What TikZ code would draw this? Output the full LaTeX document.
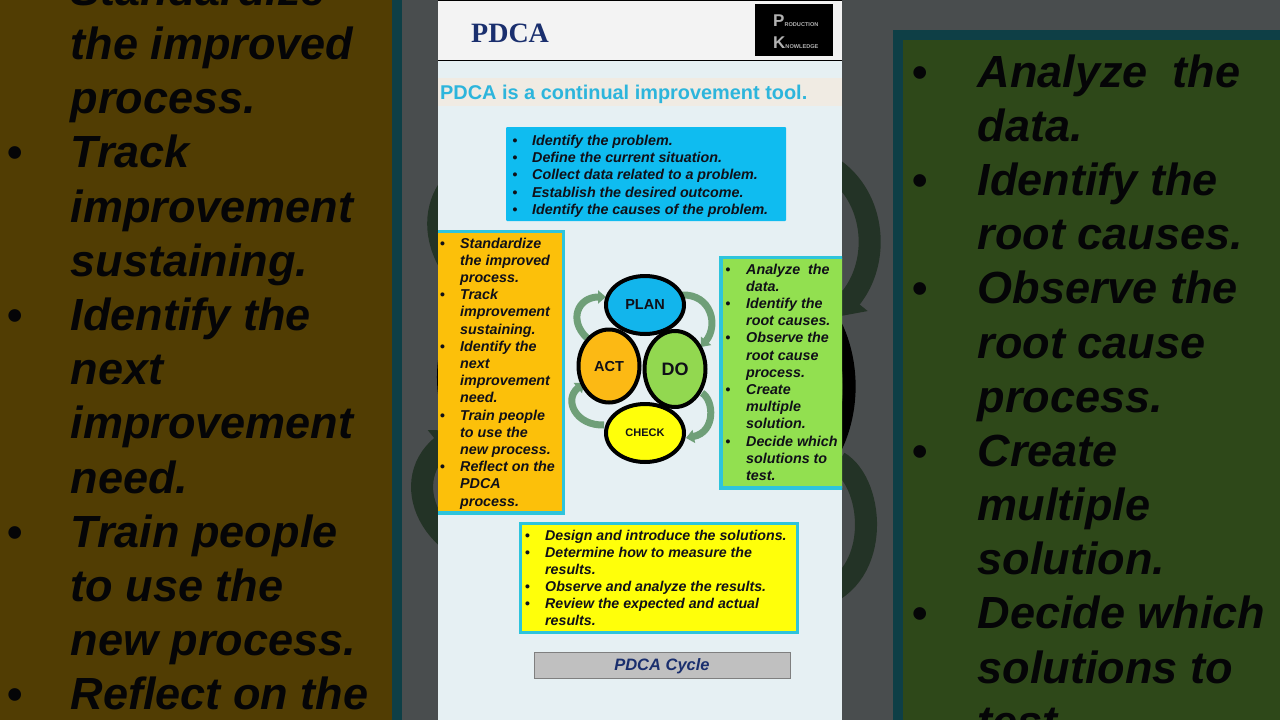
\documentclass[tikz,border=0pt]{standalone}
\usepackage{fontspec}
\usetikzlibrary{arrows.meta}
\setmainfont{Liberation Sans}
\newfontfamily\serifbold[Ligatures=TeX]{Liberation Serif}
\definecolor{bodyc}{HTML}{E6F0F3}
\definecolor{headc}{HTML}{F3F3F3}
\definecolor{bandc}{HTML}{F0EBE3}
\definecolor{tealc}{HTML}{2DB5DC}
\definecolor{navyc}{HTML}{1A2F6E}
\definecolor{cyanb}{HTML}{2EC4DC}
\definecolor{bluef}{HTML}{0FBCF0}
\definecolor{orangef}{HTML}{FCC00A}
\definecolor{greenf}{HTML}{92E050}
\definecolor{yellowf}{HTML}{FFFF0A}
\definecolor{greyf}{HTML}{C0C0C0}
\definecolor{greyb}{HTML}{7F7F7F}
\definecolor{plancol}{HTML}{12B5EC}
\definecolor{actcol}{HTML}{FCB914}
\definecolor{docol}{HTML}{92D850}
\definecolor{arrowc}{HTML}{6F9F78}
\definecolor{inkc}{HTML}{101018}
\def\lsc{1}
\tikzset{
  x=1pt,y=-1pt,
  line/.style={anchor=base west,inner sep=0pt,text=inkc,font=\fontsize{14.3}{14.3}\selectfont\bfseries\itshape},
  ylin/.style={anchor=base west,inner sep=0pt,text=inkc,font=\fontsize{14.2}{14.2}\selectfont\bfseries\itshape},
  dotm/.style={anchor=base west,inner sep=0pt,text=inkc,font=\fontsize{14}{14}\selectfont\bfseries},
  boxb/.style={draw=cyanb,line width=\lsc*3.2pt},
  ring/.style={draw=black,line width=\lsc*4pt},
  band/.style={draw=arrowc,line width=\lsc*7pt,-{Triangle[length=8pt,width=13pt,scale=\lsc]}},
  cyc/.style={inner sep=0pt,text=inkc,font=\bfseries}
}
\newcommand{\orangebox}{\filldraw[boxb,fill=orangef] (430,231.5) rectangle (563.7,513);}
\newcommand{\orangelines}[1]{%
  \foreach \i/\t in {0/Standardize,1/the improved,2/process.,3/Track,4/improvement,5/sustaining.,6/Identify the,7/next,8/improvement,9/need.,10/Train people,11/to use the,12/new process.,13/Reflect on the}
    \node[line] (#1l\i) at (460,{248+17.2*\i}) {\t};
  \foreach \i in {0,3,6,10,13}
    \node[dotm] (#1d\i) at (440,{248+17.2*\i}) {•};
}
\newcommand{\greenbox}{\filldraw[boxb,fill=greenf] (860,257.5) -- (721,257.5) -- (721,488) -- (860,488) -- cycle;}
\newcommand{\greenlines}[1]{%
  \foreach \i/\t in {0/Analyze\ \ the,1/data.,2/Identify the,3/root causes.,4/Observe the,5/root cause,6/process.,7/Create,8/multiple,9/solution.,10/Decide which,11/solutions to,12/test.}
    \node[line] (#1l\i) at (746,{274+17.2*\i}) {\t};
  \foreach \i in {0,2,4,7,10}
    \node[dotm] (#1d\i) at (725.5,{274+17.2*\i}) {•};
}
\newcommand{\cycleshapes}[1]{%
  \coordinate (#1a1) at (682,295);\coordinate (#1a2) at (701,347);
  \coordinate (#1b1) at (702,393);\coordinate (#1b2) at (686,438);
  \coordinate (#1c1) at (604,425);\coordinate (#1c2) at (584,383);
  \coordinate (#1e1) at (587,338);\coordinate (#1e2) at (606,297);
  \draw[band] (#1a1) .. controls (711,294) and (719,325) .. (#1a2);
  \draw[band] (#1b1) .. controls (714,400) and (716,432) .. (#1b2);
  \draw[band] (#1c1) .. controls (576,426) and (563,400) .. (#1c2);
  \draw[band] (#1e1) .. controls (568,320) and (578,297) .. (#1e2);
  \filldraw[ring,fill=actcol] (609,366) ellipse (30.5 and 36.5);
  \filldraw[ring,fill=docol] (675,369) ellipse (30.5 and 38);
  \filldraw[ring,fill=plancol] (645,305) ellipse (39 and 29);
  \filldraw[ring,fill=yellowf] (645,433) ellipse (39 and 29);
}
\begin{document}
\begin{tikzpicture}
\useasboundingbox (0,0) rectangle (1280,720);
\clip (0,0) rectangle (1280,720);
\fill[bodyc] (0,0) rectangle (1280,720);
% left enlarged backdrop
\begin{scope}
\clip (0,0) rectangle (438,720);
\begin{scope}[shift={(-1379,-775.75)},scale=3.15,transform shape]
\def\lsc{3.15}
\orangebox
\orangelines{bgo}
\cycleshapes{bgl}
\end{scope}
\fill[black,opacity=.68] (0,0) rectangle (438,720);
\end{scope}
% right enlarged backdrop
\begin{scope}
\clip (842,0) rectangle (1280,720);
\begin{scope}[shift={(-1373,-776)},scale=3.15,transform shape]
\def\lsc{3.15}
\cycleshapes{bgr}
\greenbox
\greenlines{bgg}
\end{scope}
\fill[black,opacity=.68] (842,0) rectangle (1280,720);
\end{scope}
% central panel
\begin{scope}
\clip (438,0) rectangle (842,720);
\fill[bodyc] (438,0) rectangle (842,720);
\fill[headc] (438,0) rectangle (842,60);
\draw[black,line width=1.5pt] (438,0.7) -- (842,0.7);
\draw[black,line width=1.5pt] (438,60.5) -- (842,60.5);
\node[anchor=base west,inner sep=0pt,text=navyc,font=\serifbold\fontsize{28}{28}\selectfont\bfseries] (title) at (471,42) {PDCA};
\node[fill=black,minimum width=78pt,minimum height=52pt,inner sep=0pt,anchor=north west] (logo) at (755,4) {};
\node[anchor=base west,inner sep=0pt,text=black!30,font=\bfseries] (logop) at (773,26) {\fontsize{17}{17}\selectfont P\fontsize{5.6}{6}\selectfont RODUCTION};
\node[anchor=base west,inner sep=0pt,text=black!30,font=\bfseries] (logok) at (773,48) {\fontsize{17}{17}\selectfont K\fontsize{5.6}{6}\selectfont NOWLEDGE};
\fill[bandc] (438,78) rectangle (842,106);
\node[anchor=base west,inner sep=0pt,text=tealc,font=\fontsize{19.9}{20}\selectfont\bfseries] (sub) at (440,99) {PDCA is a continual improvement tool.};
% blue box
\fill[bluef,rounded corners=1pt] (506,127) rectangle (786,221);
\foreach \i/\y/\t in {0/145/Identify the problem.,1/162/Define the current situation.,2/179/Collect data related to a problem.,3/197/Establish the desired outcome.,4/214/Identify the causes of the problem.}{
  \node[line] (pl\i) at (532,\y) {\t};
  \node[dotm] (pd\i) at (512.5,\y) {•};
}
% orange box
\orangebox
\orangelines{ao}
\node[line] (al14) at (460,488.8) {PDCA};
\node[line] (al15) at (460,506) {process.};
% green box
\greenbox
\greenlines{dg}
% yellow box
\filldraw[boxb,fill=yellowf] (520.5,523.5) rectangle (797.5,632.5);
\foreach \i/\y/\t in {0/540/Design and introduce the solutions.,1/557/Determine how to measure the,2/574/results.,3/591/Observe and analyze the results.,4/608/Review the expected and actual,5/625/results.}
  \node[ylin] (yl\i) at (545,\y) {\t};
\foreach \i/\y in {0/540,1/557,3/591,4/608}
  \node[dotm] (yd\i) at (525,\y) {•};
% caption
\filldraw[draw=greyb,line width=1pt,fill=greyf] (534,652) rectangle (790,678);
\node[anchor=base,inner sep=0pt,text=navyc,font=\fontsize{16.5}{16.5}\selectfont\bfseries\itshape] (cap) at (662,670) {PDCA Cycle};
% cycle
\cycleshapes{c}
\node[cyc,font=\fontsize{14.5}{15}\selectfont\bfseries] (plan) at (645,305) {PLAN};
\node[cyc,font=\fontsize{14.5}{15}\selectfont\bfseries] (act) at (609,367) {ACT};
\node[cyc,font=\fontsize{18}{18}\selectfont\bfseries] (do) at (675,369) {DO};
\node[cyc,font=\fontsize{11}{11}\selectfont\bfseries] (check) at (645,433) {CHECK};
\end{scope}
\end{tikzpicture}
\end{document}
